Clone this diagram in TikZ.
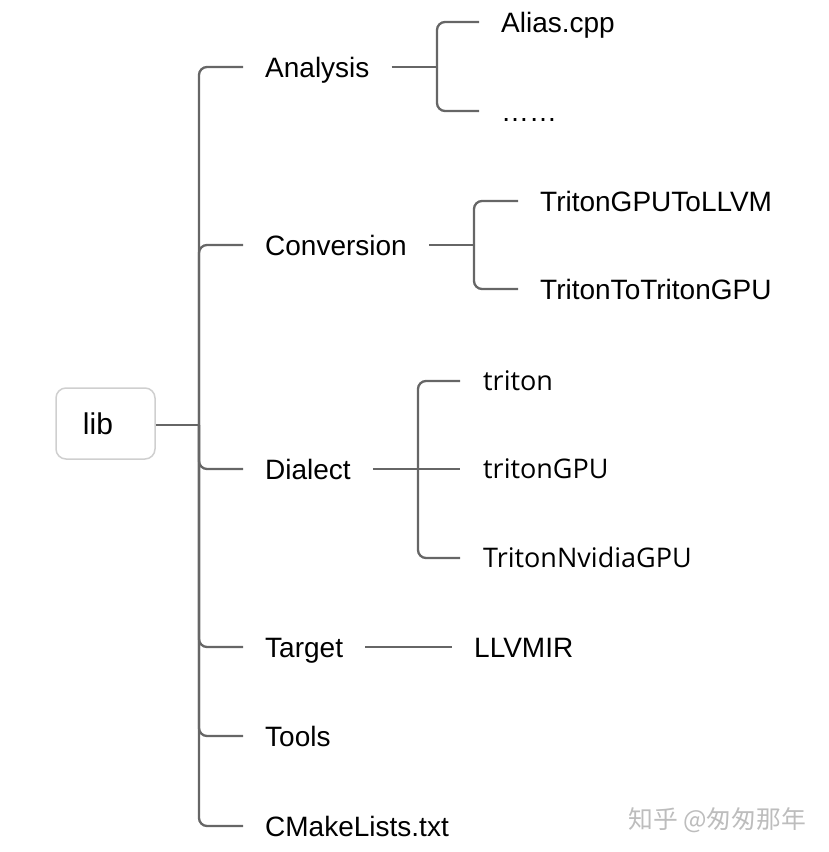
\documentclass[tikz,border=0pt]{standalone}
\usepackage{fontspec}
\setmainfont{Liberation Sans}
\newfontfamily\segoe{Open Sans}
\newfontfamily\cjk{Noto Sans CJK SC}
\definecolor{linegray}{HTML}{666666}
\definecolor{boxgray}{HTML}{CFCFCF}
\definecolor{markgray}{HTML}{BDBDBD}
\begin{document}
\begin{tikzpicture}[x=1pt,y=-1pt,
  conn/.style={draw=linegray, line width=2.3pt},
  elbow/.style={conn, rounded corners=8pt},
  lvl/.style={anchor=west, inner xsep=22pt, inner ysep=0pt, text height=20pt, text depth=0pt, font=\fontsize{28}{33}\selectfont},
  dlv/.style={lvl, inner xsep=23pt, font=\segoe\fontsize{27}{32}\selectfont, text height=19.3pt},
  rootbox/.style={draw=boxgray, line width=1.5pt, rounded corners=10pt, minimum width=99pt, minimum height=71pt, inner sep=0pt, font=\fontsize{30}{36}\selectfont}]
\useasboundingbox (0,0) rectangle (828,852);

% root
\node[rootbox] (lib) at (105.5,423.5) {lib\rule{15pt}{0pt}};
\coordinate (trunk) at (199,425);

% level 1
\node[lvl] (analysis) at (243,67) {Analysis};
\node[lvl] (conversion) at (243,245) {Conversion};
\node[lvl] (dialect) at (243,469) {Dialect};
\node[lvl] (target) at (243,647) {Target};
\node[lvl] (tools) at (243,736) {Tools};
\node[lvl] (cmake) at (243,826) {CMakeLists.txt};

% level 2
\node[lvl] (alias) at (479,22) {Alias.cpp};
\node[lvl] (dots) at (479,111) {……};
\node[lvl] (gpu2llvm) at (518,201) {TritonGPUToLLVM};
\node[lvl] (t2tgpu) at (518,289) {TritonToTritonGPU};
\node[dlv] (triton) at (460,381) {triton};
\node[dlv] (tritongpu) at (460,469) {tritonGPU};
\node[dlv] (nvgpu) at (460,558) {TritonNvidiaGPU};
\node[lvl] (llvmir) at (452,647) {LLVMIR};

% joints
\coordinate (ja) at (437,67);
\coordinate (jc) at (474,245);
\coordinate (jd) at (418,469);

% root connectors
\draw[conn] (lib.east |- trunk) -- (trunk);
\foreach \n in {analysis,conversion,dialect,target,tools,cmake}
  \draw[elbow] (trunk) |- (\n.west);

% Analysis
\draw[conn] (analysis.east) -- (ja);
\draw[elbow] (ja) |- (alias.west);
\draw[elbow] (ja) |- (dots.west);

% Conversion
\draw[conn] (conversion.east) -- (jc);
\draw[elbow] (jc) |- (gpu2llvm.west);
\draw[elbow] (jc) |- (t2tgpu.west);

% Dialect
\draw[conn] (dialect.east) -- (tritongpu.west);
\draw[elbow] (jd) |- (triton.west);
\draw[elbow] (jd) |- (nvgpu.west);

% Target
\draw[conn] (target.east) -- (llvmir.west);

% watermark
\node[anchor=west, inner sep=0pt, text=markgray, font=\cjk\fontsize{24.8}{28}\selectfont] (mark) at (628,820) {知乎 @匆匆那年};
\end{tikzpicture}
\end{document}
